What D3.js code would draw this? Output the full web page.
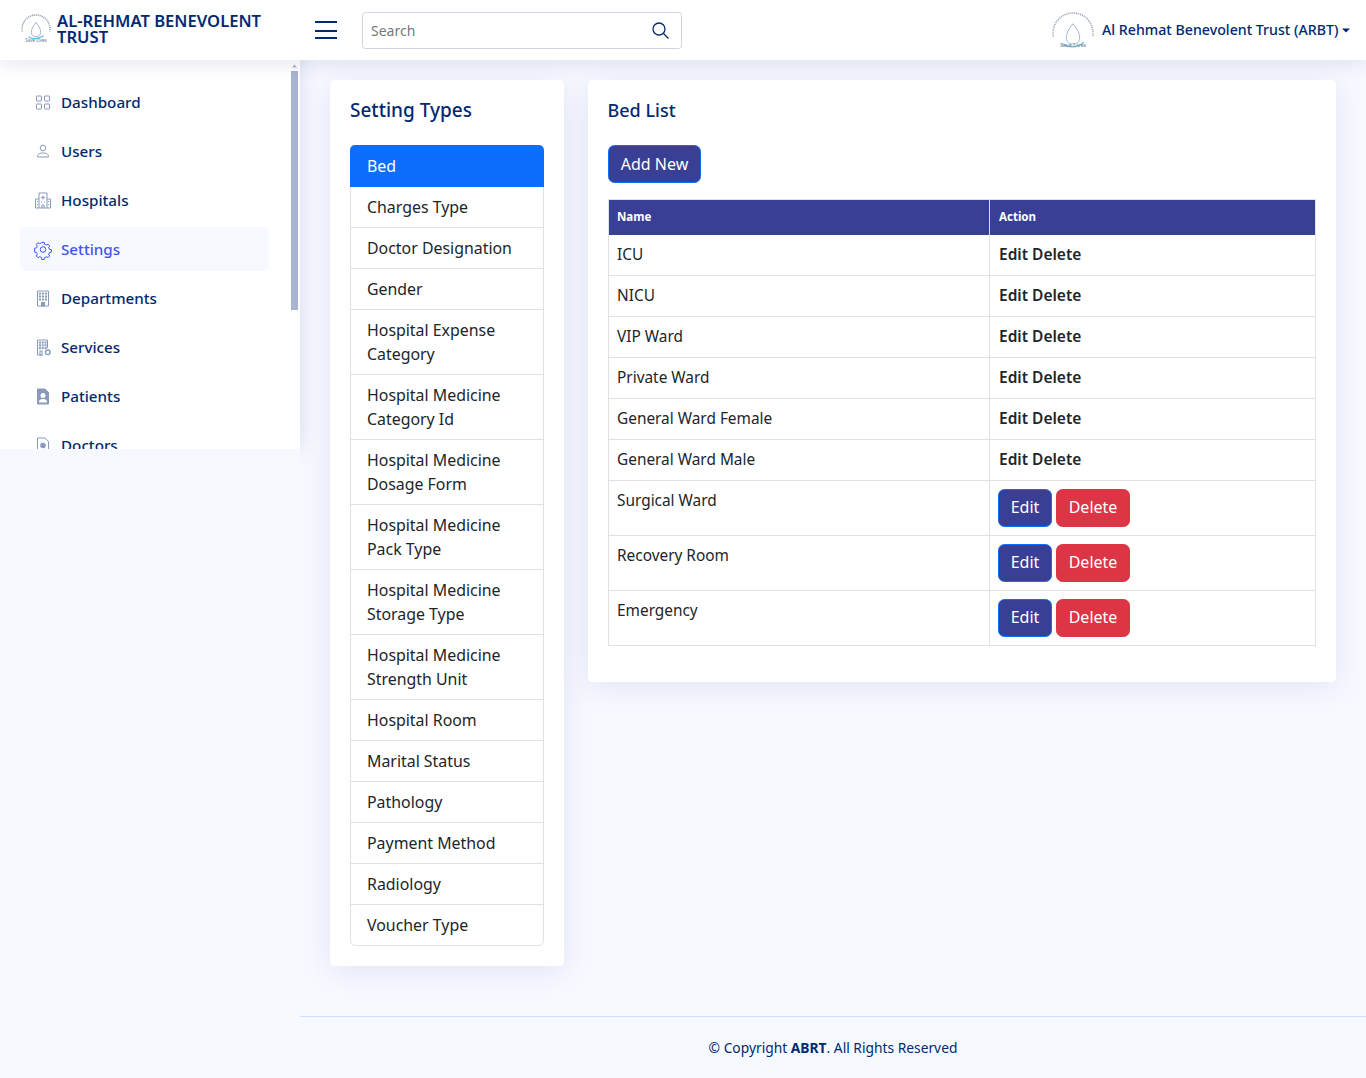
<!DOCTYPE html>
<html>
<head>
<meta charset="utf-8">
<title>Bed List</title>
<script src="https://cdn.jsdelivr.net/npm/d3@7"></script>
<style>
  html, body { margin: 0; padding: 0; background: #f6f9ff; overflow: hidden; }
  svg { display: block; font-family: "Noto Sans", sans-serif; }
</style>
</head>
<body>
<div id="page"></div>
<script>
const sidebarItems = ["Dashboard", "Users", "Hospitals", "Settings", "Departments", "Services", "Patients", "Doctors"];
const sidebarIcons = ["grid", "person", "hospital", "gear", "building", "buildingGear", "badge", "file"];
const settingTypes = [
    ["Bed"], ["Charges Type"], ["Doctor Designation"], ["Gender"],
    ["Hospital Expense", "Category"], ["Hospital Medicine", "Category Id"],
    ["Hospital Medicine", "Dosage Form"], ["Hospital Medicine", "Pack Type"],
    ["Hospital Medicine", "Storage Type"], ["Hospital Medicine", "Strength Unit"],
    ["Hospital Room"], ["Marital Status"], ["Pathology"], ["Payment Method"],
    ["Radiology"], ["Voucher Type"]
];
const bedNames = ["ICU", "NICU", "VIP Ward", "Private Ward", "General Ward Female", "General Ward Male", "Surgical Ward", "Recovery Room", "Emergency"];
const bedActions = ["text", "text", "text", "text", "text", "text", "button", "button", "button"];
const tableColumns = ["Name", "Action"];

const W = 1366, H = 1078;
const navy = "#012970", indigo = "#3a3f96", bodyText = "#212529", line = "#dee2e6";

const svg = d3.select("#page").append("svg").attr("width", W).attr("height", H);
const defs = svg.append("defs");

function addShadow(id, dy, blur, alpha) {
    defs.append("filter").attr("id", id)
        .attr("x", "-30%").attr("y", "-30%").attr("width", "160%").attr("height", "160%")
        .append("feDropShadow")
        .attr("dx", 0).attr("dy", dy).attr("stdDeviation", blur)
        .attr("flood-color", "#012970").attr("flood-opacity", alpha);
}
addShadow("barShadow", 2, 10, 0.12);
addShadow("sideShadow", 0, 10, 0.12);
addShadow("cardShadow", 5, 15, 0.08);
defs.append("clipPath").attr("id", "sideClip").append("rect")
    .attr("x", 0).attr("y", 60).attr("width", 300).attr("height", 389);

function label(parent, x, y, str, size, weight, color, anchor) {
    return parent.append("text").attr("x", x).attr("y", y).text(str)
        .attr("font-size", size).attr("font-weight", weight).attr("fill", color)
        .attr("text-anchor", anchor || "start");
}

/* page background + sidebar */
svg.append("rect").attr("width", W).attr("height", H).attr("fill", "#f6f9ff");
svg.append("rect").attr("x", 0).attr("y", 0).attr("width", 300).attr("height", 449)
    .attr("fill", "#fff").attr("filter", "url(#sideShadow)");
svg.append("rect").attr("x", 0).attr("y", 449).attr("width", 300).attr("height", H - 449).attr("fill", "#f6f9ff");

/* sidebar items, spaced by a band scale */
const sideY = d3.scaleBand().domain(sidebarItems).range([78, 470]);
const side = svg.append("g").attr("clip-path", "url(#sideClip)");
side.append("rect").attr("x", 20).attr("y", 227).attr("width", 249).attr("height", 44)
    .attr("rx", 5).attr("fill", "#f6f9ff");

function drawIcon(g, kind, color) {
    const s = g.append("g").attr("fill", "none").attr("stroke", color).attr("stroke-width", 1);
    if (kind === "grid") {
        [[1, 1], [9, 1], [1, 9], [9, 9]].forEach(p => s.append("rect")
            .attr("x", p[0] + 0.5).attr("y", p[1] + 0.5).attr("width", 5).attr("height", 5).attr("rx", .5));
    } else if (kind === "person") {
        s.append("circle").attr("cx", 8).attr("cy", 4.500).attr("r", 2.800);
        s.append("path").attr("d", "M2.500 13.500 c0-3.500 3-4 5.500-4 s5.500 .5 5.500 4 z");
    } else if (kind === "hospital") {
        s.append("path").attr("d", "M4 15.500V.5h8v15M4 6.500H.5v9h15v-9H12");
        s.append("path").attr("d", "M8 3v4M6 5h4M2 9h1M2 12h1M13 9h1M13 12h1M6 9.500h1M9 9.500h1M7 15.500v-3h2v3");
    } else if (kind === "gear") {
        s.append("circle").attr("cx", 8).attr("cy", 8).attr("r", 2.800);
        s.append("path").attr("d", "M6.800 .8h2.400l.4 2 1.700.8 1.800-1 1.600 1.700-1 1.700.7 1.700 2 .5v2.400l-2 .5-.7 1.700 1 1.700-1.600 1.700-1.800-1-1.700.8-.4 2H6.800l-.4-2-1.700-.8-1.800 1-1.600-1.700 1-1.700-.7-1.700-2-.5V6.800l2-.5.7-1.700-1-1.700 1.600-1.700 1.800 1 1.700-.8z");
    } else if (kind === "building" || kind === "buildingGear") {
        s.append("path").attr("d", kind === "building" ? "M2.500 .5h11v15h-11z" : "M2.500 15.500V.5h10v8M2.500 15.500h5");
        const cols = kind === "building" ? [4, 7, 10] : [4, 6.800, 9.600];
        const rows = kind === "building" ? [2, 5, 8] : [2, 4.800, 7.600];
        cols.forEach(x => rows.forEach(y => s.append("rect")
            .attr("x", x).attr("y", y).attr("width", 2).attr("height", 2).attr("fill", color).attr("stroke", "none")));
        if (kind === "building") {
            s.append("rect").attr("x", 6.500).attr("y", 12).attr("width", 3).attr("height", 3.500).attr("fill", color);
        } else {
            s.append("circle").attr("cx", 12.800).attr("cy", 12.800).attr("r", 2.300).attr("stroke-width", 1.400);
            s.append("rect").attr("x", 5).attr("y", 11.500).attr("width", 2).attr("height", 4);
        }
    } else if (kind === "badge") {
        s.append("path").attr("d", "M2.500 .5h7.500l3.500 3.500v11.500h-11z").attr("fill", color);
        s.append("circle").attr("cx", 8).attr("cy", 7).attr("r", 2.500).attr("fill", "#fff").attr("stroke", "none");
        s.append("path").attr("d", "M4 14c0-3 2-3.500 4-3.500s4 .5 4 3.500z").attr("fill", "#fff").attr("stroke", "none");
    } else {
        s.append("path").attr("d", "M2.500 .5h7.500l3.500 3.500v11.500h-11z");
        s.append("circle").attr("cx", 8).attr("cy", 8).attr("r", 2.800).attr("fill", color).attr("stroke", "none");
    }
}

sidebarItems.forEach((name, i) => {
    const cy = sideY(name) + sideY.bandwidth() / 2;
    const active = name === "Settings";
    const ig = side.append("g").attr("transform", `translate(35,${cy - 8})`);
    drawIcon(ig, sidebarIcons[i], active ? "#4154f1" : "#899bbd");
    label(side, 61, cy + 5.500, name, 15.200, 500, active ? "#4154f1" : navy);
});

/* scrollbar */
svg.append("path").attr("d", "M292 67.500l2.500-3 2.500 3z").attr("fill", "#a9b4cf");
svg.append("rect").attr("x", 291).attr("y", 71).attr("width", 7).attr("height", 239).attr("fill", "#a9b4cf");

/* header */
svg.append("rect").attr("width", W).attr("height", 60).attr("fill", "#fff").attr("filter", "url(#barShadow)");

function drawLogo(x, y, r, textY, textSize) {
    const g = svg.append("g").attr("transform", `translate(${x},${y})`);
    const arc = d3.arc().innerRadius(r).outerRadius(r).startAngle(-1.750).endAngle(1.750);
    g.append("path").attr("d", arc()).attr("fill", "none").attr("stroke", "#98a3b8")
        .attr("stroke-width", 1.500).attr("stroke-dasharray", "1 1");
    const d = r * .42;
    g.append("path").attr("d", `M0 ${-d * 1.100}C${-d * 1.200} ${d * .3} ${-d * .9} ${d * 1.300} 0 ${d * 1.300}S${d * 1.200} ${d * .3} 0 ${-d * 1.100}z`)
        .attr("fill", "none").attr("stroke", "#a5b6d0").attr("stroke-width", 1);
    g.append("path").attr("d", `M${-r * .55} ${d * 1.300}Q0 ${d * 2.100} ${r * .55} ${d * 1.100}`)
        .attr("fill", "none").attr("stroke", "#5cc3ec").attr("stroke-width", 1.200);
    label(g, 0, textY, "Save Lives", textSize, 400, "#6b7688", "middle");
}
drawLogo(36, 29, 14, 12.500, 4.500);
drawLogo(1073, 33, 20, 14, 5.500);

label(svg, 57, 27, "AL-REHMAT BENEVOLENT", 16.600, 600, navy);
label(svg, 57, 43, "TRUST", 16.600, 600, navy);

svg.append("g").attr("fill", navy).selectAll("rect").data([21, 30, 37]).join("rect")
    .attr("x", 315).attr("y", d => d).attr("width", 22).attr("height", 2);

svg.append("rect").attr("x", 362.500).attr("y", 12.500).attr("width", 319).attr("height", 36)
    .attr("rx", 3).attr("fill", "#fff").attr("stroke", "#cfd5e0");
label(svg, 371, 36, "Search", 14, 400, "#76797d");
svg.append("g").attr("fill", "none").attr("stroke", navy).attr("stroke-width", 1.300)
    .call(g => g.append("circle").attr("cx", 659).attr("cy", 29).attr("r", 6))
    .call(g => g.append("path").attr("d", "M663.500 33.500l5 5"));

label(svg, 1102, 35, "Al Rehmat Benevolent Trust (ARBT)", 14.200, 500, navy);
svg.append("path").attr("d", "M1342 28.500h8l-4 4z").attr("fill", navy);

/* setting types card */
svg.append("rect").attr("x", 330).attr("y", 80).attr("width", 234).attr("height", 886)
    .attr("rx", 5).attr("fill", "#fff").attr("filter", "url(#cardShadow)");
label(svg, 350, 117, "Setting Types", 19, 500, navy);

let listY = 145;
const listHeights = settingTypes.map(t => t.length === 1 ? 41 : 65);
const listTop = d3.cumsum(listHeights).map(v => v + listY);
svg.append("rect").attr("x", 350.500).attr("y", 145.500).attr("width", 193).attr("height", 800)
    .attr("rx", 5).attr("fill", "#fff").attr("stroke", line);
settingTypes.forEach((lines, i) => {
    const top = i === 0 ? listY : listTop[i - 1];
    const bottom = listTop[i];
    if (i === 0) {
        svg.append("path").attr("d", `M350 ${bottom + 1}V${top + 5}a5 5 0 0 1 5-5h184a5 5 0 0 1 5 5V${bottom + 1}z`)
            .attr("fill", "#0d6efd");
    } else if (i < settingTypes.length - 1) {
        svg.append("path").attr("d", `M351 ${bottom + .5}H543`).attr("stroke", line);
    }
    lines.forEach((t, j) => {
        label(svg, 367, top + 27 + j * 24, t, 15.900, 400, i === 0 ? "#fff" : bodyText);
    });
});

/* bed list card */
svg.append("rect").attr("x", 588).attr("y", 80).attr("width", 748).attr("height", 602)
    .attr("rx", 5).attr("fill", "#fff").attr("filter", "url(#cardShadow)");
label(svg, 607.500, 117, "Bed List", 18, 500, navy);

function button(x, y, w, h, str, fill, stroke, textDy) {
    svg.append("rect").attr("x", x + .5).attr("y", y + .5).attr("width", w - 1).attr("height", h - 1)
        .attr("rx", 6).attr("fill", fill).attr("stroke", stroke);
    label(svg, x + w / 2, y + h / 2 + textDy, str, 16, 400, "#fff", "middle");
}
button(608, 145, 93, 38, "Add New", indigo, "#0d6efd", 6);

/* table */
const colX = [608, 989, 1316];
const rowHeights = bedActions.map(a => a === "text" ? 41 : 55);
const headTop = 199, headBottom = 234;
const rowBottom = d3.cumsum(rowHeights).map(v => v + headBottom);
svg.append("rect").attr("x", colX[0]).attr("y", headTop).attr("width", colX[2] - colX[0]).attr("height", headBottom - headTop + 1)
    .attr("fill", indigo);
tableColumns.forEach((c, i) => label(svg, colX[i] + 9 + i, 221, c, 11.500, 700, "#fff"));
bedNames.forEach((name, i) => {
    const top = i === 0 ? headBottom : rowBottom[i - 1];
    const bottom = rowBottom[i];
    svg.append("path").attr("d", `M${colX[0]} ${bottom + .5}H${colX[2]}`).attr("stroke", line);
    label(svg, 617, top + 26, name, 15.400, 400, bodyText);
    if (bedActions[i] === "text") {
        label(svg, 999, top + 26, "Edit Delete", 15.500, 600, bodyText);
    } else {
        button(998, top + 9, 54, 38, "Edit", indigo, "#0d6efd", 5);
        button(1056, top + 9, 74, 38, "Delete", "#dc3545", "#dc3545", 5);
    }
});
const tableBottom = rowBottom[rowBottom.length - 1];
svg.append("path").attr("fill", "none").attr("stroke", line)
    .attr("d", `M608.500 199V${tableBottom + 1}M989.500 235V${tableBottom + 1}M1315.500 199V${tableBottom + 1}M608 199.500H1316`);
svg.append("path").attr("stroke", "#fff").attr("stroke-opacity", .8).attr("d", "M989.500 200V235");

/* footer */
svg.append("path").attr("d", "M300 1016.500H1366").attr("stroke", "#cddfff");
const foot = label(svg, 833, 1053, "© Copyright ", 13.800, 400, "#012970", "middle");
foot.append("tspan").attr("font-weight", 700).text("ABRT");
foot.append("tspan").text(". All Rights Reserved");
</script>
</body>
</html>
